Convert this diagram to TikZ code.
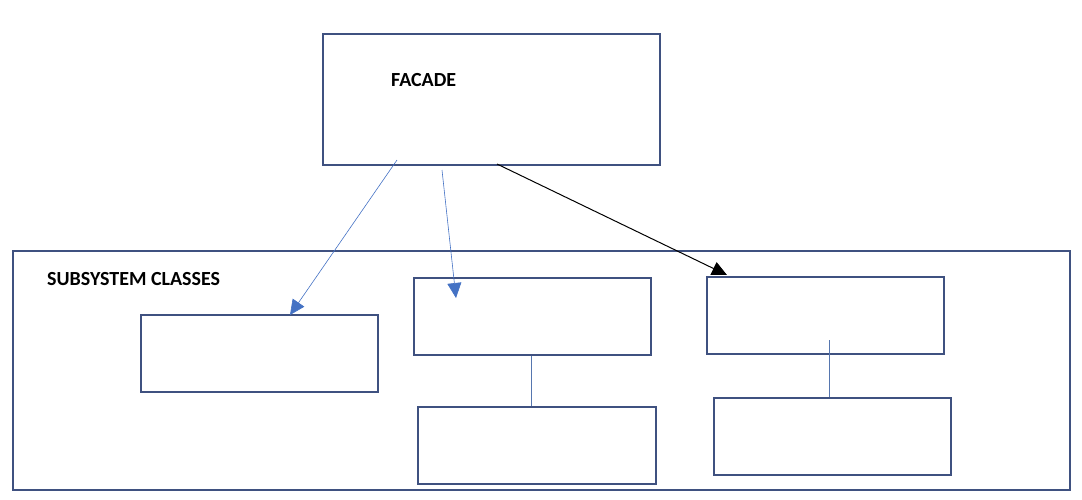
\documentclass[tikz,border=0pt]{standalone}
\usepackage{fontspec}
\setmainfont{Carlito}
\usetikzlibrary{arrows.meta}
\definecolor{boxline}{HTML}{3F5180}
\definecolor{arrowblue}{HTML}{4472C4}
\begin{document}
\begin{tikzpicture}[x=1pt,y=-1pt,
  box/.style={draw=boxline,line width=1.6pt,fill=none,inner sep=0pt,anchor=north west},
  lbl/.style={font=\bfseries\fontsize{20}{24}\selectfont,anchor=base west,inner sep=0pt},
  bluearrow/.style={draw=arrowblue,line width=0.6pt,-{Triangle[length=15pt,width=14pt]}},
  blackarrow/.style={draw=black,line width=1pt,-{Triangle[length=15pt,width=14pt]}},
  link/.style={draw=arrowblue!70!gray,line width=0.7pt}]
\useasboundingbox (0,0) rectangle (1082,499);
\node[box,minimum width=1057pt,minimum height=239pt] (sub) at (12,250) {};
\node[box,minimum width=337pt,minimum height=131pt] (facade) at (322,33) {};
\node[lbl] (ftext) at (391,86) {FACADE};
\node[lbl] (stext) at (47,285) {SUBSYSTEM CLASSES};
\node[box,minimum width=237pt,minimum height=77pt] (a) at (140,314) {};
\node[box,minimum width=237pt,minimum height=77pt] (b) at (413,277) {};
\node[box,minimum width=237pt,minimum height=77pt] (c) at (706,276) {};
\node[box,minimum width=238pt,minimum height=77pt] (d) at (417,406) {};
\node[box,minimum width=237pt,minimum height=77pt] (e) at (713,397) {};
\coordinate (s1) at (397,160);
\coordinate (t1) at (290,315);
\coordinate (s2) at (442,170);
\coordinate (t2) at (456,298);
\coordinate (s3) at (497,164);
\coordinate (t3) at (727,275);
\coordinate (cl) at (829,340);
\draw[bluearrow] (s1) -- (t1);
\draw[bluearrow] (s2) -- (t2);
\draw[blackarrow] (s3) -- (t3);
\draw[link] (b.south -| 531,0) -- (d.north -| 531,0);
\draw[link] (cl) -- (e.north -| cl);
\end{tikzpicture}
\end{document}
